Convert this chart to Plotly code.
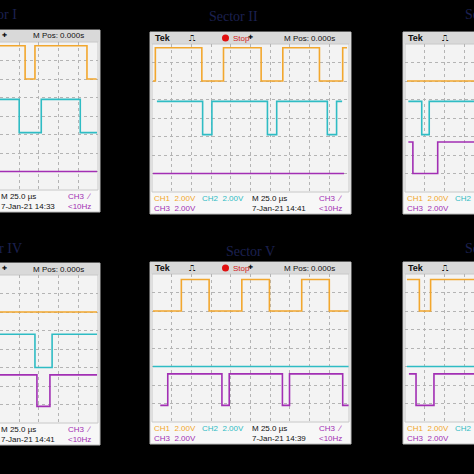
import plotly.graph_objects as go

W = 474
ORANGE = '#f2a72e'
CYAN = '#2fbcc4'
PURPLE = '#a22fb4'

sector_names = ['Sector I', 'Sector II', 'Sector III', 'Sector IV', 'Sector V', 'Sector VI']
dates = ['7-Jan-21 14:33', '7-Jan-21 14:41', '7-Jan-21 14:41',
         '7-Jan-21 14:41', '7-Jan-21 14:39', '7-Jan-21 14:39']

# waveform transitions: time in divisions (10 div = 250 us), level in divisions (0..8)
s1_ch1_t = [4.9, 6.3, 6.8, 9.44, 9.93]; s1_ch1_v = [7.8, 6.0, 7.8, 6.0, 6.0]
s1_ch2_t = [4.9, 6.0, 7.12, 9.1, 9.95]; s1_ch2_v = [4.9, 3.1, 4.9, 3.1, 3.1]
s1_ch3_t = [4.9, 9.95]; s1_ch3_v = [1.0, 1.0]

s2_ch1_t = [0.05, 0.17, 2.53, 3.63, 5.54, 6.64, 8.5, 9.68, 9.9]
s2_ch1_v = [6.0, 7.8, 6.0, 7.8, 6.0, 7.8, 6.0, 7.8, 7.8]
s2_ch2_t = [0.25, 2.57, 3.04, 5.86, 6.33, 8.9, 9.37, 9.65]
s2_ch2_v = [4.9, 3.1, 4.9, 3.1, 4.9, 3.1, 4.9, 4.9]
s2_ch3_t = [0.05, 9.75]; s2_ch3_v = [1.0, 1.0]

s3_ch1_t = [0.1, 3.6]; s3_ch1_v = [6.0, 6.0]
s3_ch2_t = [0.17, 0.85, 1.23, 3.6]; s3_ch2_v = [4.9, 3.1, 4.9, 4.9]
s3_ch3_t = [0.17, 0.4, 1.66, 3.6]; s3_ch3_v = [2.7, 1.0, 2.7, 2.7]

s4_ch1_t = [4.9, 9.95]; s4_ch1_v = [6.0, 6.0]
s4_ch2_t = [4.9, 6.8, 7.67, 9.95]; s4_ch2_v = [4.8, 3.0, 4.8, 4.8]
s4_ch3_t = [4.9, 6.9, 7.56, 9.95]; s4_ch3_v = [2.6, 0.9, 2.6, 2.6]

s5_ch1_t = [0.05, 1.49, 2.9, 4.56, 5.96, 7.6, 9.0, 9.98]
s5_ch1_v = [6.0, 7.7, 6.0, 7.7, 6.0, 7.7, 6.0, 6.0]
s5_ch2_t = [0.05, 9.98]; s5_ch2_v = [3.0, 3.0]
s5_ch3_t = [0.42, 0.8, 3.55, 3.92, 6.62, 6.98, 9.68, 9.98]
s5_ch3_v = [0.9, 2.6, 0.9, 2.6, 0.9, 2.6, 0.9, 0.9]

s6_ch1_t = [0.1, 0.73, 1.3, 3.6]; s6_ch1_v = [7.7, 6.0, 7.7, 7.7]
s6_ch2_t = [0.1, 3.6]; s6_ch2_v = [3.0, 3.0]
s6_ch3_t = [0.2, 0.56, 1.47, 3.6]; s6_ch3_v = [2.6, 0.9, 2.6, 2.6]

waves = [
    [(s1_ch1_t, s1_ch1_v), (s1_ch2_t, s1_ch2_v), (s1_ch3_t, s1_ch3_v)],
    [(s2_ch1_t, s2_ch1_v), (s2_ch2_t, s2_ch2_v), (s2_ch3_t, s2_ch3_v)],
    [(s3_ch1_t, s3_ch1_v), (s3_ch2_t, s3_ch2_v), (s3_ch3_t, s3_ch3_v)],
    [(s4_ch1_t, s4_ch1_v), (s4_ch2_t, s4_ch2_v), (s4_ch3_t, s4_ch3_v)],
    [(s5_ch1_t, s5_ch1_v), (s5_ch2_t, s5_ch2_v), (s5_ch3_t, s5_ch3_v)],
    [(s6_ch1_t, s6_ch1_v), (s6_ch2_t, s6_ch2_v), (s6_ch3_t, s6_ch3_v)],
]

# panel placement in pixels: grid left edge, grid top
panels = [(-99, 42), (152, 44), (405, 44), (-99, 275), (152, 274), (405, 274)]
titles_xy = [(-5, 15), (233, 16), (492, 15), (-5, 248), (250, 252), (492, 248)]
GW, GH, HDR, FTR = 197, 148, 12, 22

px = lambda x: x / W
py = lambda y: 1 - y / W

fig = go.Figure()
shapes, annots = [], []
lay = {}
for i, ((gx, gy), wv) in enumerate(zip(panels, waves)):
    n = i + 1
    xa = 'xaxis' if n == 1 else 'xaxis%d' % n
    ya = 'yaxis' if n == 1 else 'yaxis%d' % n
    xr = 'x' if n == 1 else 'x%d' % n
    yr = 'y' if n == 1 else 'y%d' % n
    vx0, vx1 = max(gx, 0), min(gx + GW, W)
    r0 = (vx0 - gx) / GW * 10
    r1 = (vx1 - gx) / GW * 10
    lay[xa] = dict(domain=[px(vx0), px(vx1)], range=[r0, r1], dtick=1, tick0=0,
                   showgrid=True, gridcolor='#b4b4b4', griddash='dot', gridwidth=1,
                   zeroline=False, showticklabels=False, ticks='', anchor=yr)
    lay[ya] = dict(domain=[py(gy + GH), py(gy)], range=[0, 8], dtick=1,
                   showgrid=True, gridcolor='#b4b4b4', griddash='dot', gridwidth=1,
                   zeroline=False, showticklabels=False, ticks='', anchor=xr)
    # screen frame
    shapes.append(dict(type='rect', xref='paper', yref='paper', layer='below',
                       x0=px(gx - 2), x1=px(gx + GW + 2), y0=py(gy + GH + FTR), y1=py(gy - HDR),
                       fillcolor='#f7f7f7', line=dict(color='#bdbdbd', width=1)))
    shapes.append(dict(type='rect', xref='paper', yref='paper', layer='below',
                       x0=px(gx - 1), x1=px(gx + GW + 1), y0=py(gy), y1=py(gy - HDR + 1),
                       fillcolor='#d9d9d9', line=dict(width=0)))
    shapes.append(dict(type='rect', xref='paper', yref='paper', layer='below',
                       x0=px(gx), x1=px(gx + GW), y0=py(gy + GH), y1=py(gy),
                       fillcolor='#f3f3f3', line=dict(color='#c8c8c8', width=1)))
    shapes.append(dict(type='circle', xref='paper', yref='paper',
                       x0=px(gx + 70), x1=px(gx + 77), y0=py(gy - 2.5), y1=py(gy - 9.5),
                       fillcolor='#e01010', line=dict(width=0)))
    for (t, v), c in zip(wv, [ORANGE, CYAN, PURPLE]):
        fig.add_trace(go.Scatter(x=t, y=v, mode='lines', line=dict(color=c, width=1.6, shape='hv'),
                                 xaxis=xr, yaxis=yr, showlegend=False, hoverinfo='skip'))

    def txt(dx, y, s, col='#111111', size=8, anchor='left'):
        annots.append(dict(xref='paper', yref='paper', x=px(gx + dx), y=py(y), text=s,
                           showarrow=False, xanchor=anchor, yanchor='middle',
                           font=dict(family='Liberation Sans', size=size, color=col)))
    txt(1, gy - 6, '<b>Tek</b>', size=9)
    txt(35, gy - 6, '⎍', size=9)
    txt(79, gy - 6, 'Stop', col='#d02020')
    txt(130, gy - 6, 'M Pos: 0.000s')
    txt(0, gy + GH + 6, 'CH1  2.00V', col=ORANGE)
    txt(48, gy + GH + 6, 'CH2  2.00V', col=CYAN)
    txt(98, gy + GH + 6, 'M 25.0 µs')
    txt(165, gy + GH + 6, 'CH3  ∕', col=PURPLE)
    txt(0, gy + GH + 16, 'CH3  2.00V', col=PURPLE)
    txt(98, gy + GH + 16, dates[i])
    txt(165, gy + GH + 16, '&lt;10Hz', col=PURPLE)
    annots.append(dict(xref='paper', yref='paper', x=px(gx + GW / 2), y=py(gy - 1), text='✚',
                       showarrow=False, yanchor='bottom', font=dict(size=6, color='#111')))

for name, (tx, ty) in zip(sector_names, titles_xy):
    annots.append(dict(xref='paper', yref='paper', x=px(tx), y=py(ty), text=name,
                       showarrow=False, xanchor='center', yanchor='middle',
                       font=dict(family='Liberation Serif', size=14, color='#1c2150')))

fig.update_layout(width=W, height=W, margin=dict(l=0, r=0, t=0, b=0),
                  paper_bgcolor='black', plot_bgcolor='rgba(0,0,0,0)',
                  shapes=shapes, annotations=annots, **lay)
fig.write_html('out.html', config={'displayModeBar': False},
               post_script="document.body.style.margin='0';document.body.style.background='black';")
